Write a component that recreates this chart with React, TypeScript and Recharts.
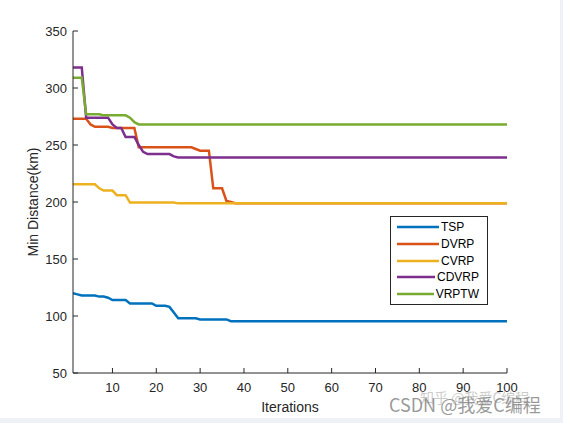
import React from 'react';
import { LineChart, Line, XAxis, YAxis, Legend, Label } from 'recharts';

// Iteration break points and min distance per series
const tspIter = [1, 2, 3, 6, 7, 8, 9, 10, 13, 14, 19, 20, 22, 23, 24, 25, 29, 30, 36, 37, 100];
const tspDist = [120, 119, 118, 118, 117, 117, 116, 114, 114, 111, 111, 109, 109, 108, 103, 98, 98, 97, 97, 95.5, 95.5];

const dvrpIter = [1, 4, 5, 6, 9, 10, 15, 16, 28, 29, 30, 32, 33, 35, 36, 37, 38, 100];
const dvrpDist = [273, 273, 268, 266, 266, 265, 265, 248, 248, 246.5, 245, 245, 212, 212, 201, 200, 199, 199];

const cvrpIter = [1, 6, 7, 8, 10, 11, 13, 14, 24, 25, 100];
const cvrpDist = [215.5, 215.5, 212, 210, 210, 206, 206, 199.5, 199.5, 198.8, 198.8];

const cdvrpIter = [1, 3, 4, 9, 10, 11, 12, 13, 15, 16, 17, 18, 23, 24, 25, 100];
const cdvrpDist = [318, 318, 274, 274, 268, 265, 265, 257, 257, 250, 244, 242, 242, 240, 239, 239];

const vrptwIter = [1, 3, 4, 7, 8, 13, 14, 15, 16, 100];
const vrptwDist = [309, 309, 277, 277, 276, 276, 274, 270, 268, 268];

const seriesNames = ['TSP', 'DVRP', 'CVRP', 'CDVRP', 'VRPTW'];
const seriesColors = ['#0072BD', '#D95319', '#EDB120', '#7E2F8E', '#77AC30'];

const xTicks = [10, 20, 30, 40, 50, 60, 70, 80, 90, 100];
const yTicks = [50, 100, 150, 200, 250, 300, 350];

const toPoints = (iters: number[], vals: number[]) =>
  iters.map((it, i) => ({ iter: it, dist: vals[i] }));

const seriesData = [
  toPoints(tspIter, tspDist),
  toPoints(dvrpIter, dvrpDist),
  toPoints(cvrpIter, cvrpDist),
  toPoints(cdvrpIter, cdvrpDist),
  toPoints(vrptwIter, vrptwDist),
];

const FONT = '"Liberation Sans", Arial, Helvetica, sans-serif';
const AX = '#262626';

const LegendBox = () => (
  <div
    style={{
      border: `1px solid ${AX}`,
      background: '#fff',
      padding: '2px 8px 2px 6px',
      fontFamily: FONT,
      fontSize: 12,
      color: '#000',
      boxSizing: 'border-box',
      width: 98,
    }}
  >
    {seriesNames.map((n, i) => (
      <div key={n} style={{ display: 'flex', alignItems: 'center', height: 16.7 }}>
        <svg width={42} height={6} style={{ display: 'block' }}>
          <line x1={0} y1={3} x2={42} y2={3} stroke={seriesColors[i]} strokeWidth={2.5} />
        </svg>
        <span style={{ marginLeft: 2, lineHeight: '16px' }}>{n}</span>
      </div>
    ))}
  </div>
);

export default function App() {
  return (
    <div
      style={{
        position: 'absolute',
        left: 0,
        top: 0,
        width: 563,
        height: 423,
        background: '#eef2f7',
        overflow: 'hidden',
      }}
    >
      <div style={{ position: 'absolute', left: 0, top: 0, width: 560, height: 418, background: '#fff' }} />
      <div style={{ position: 'absolute', left: 0, top: 0 }}>
        <LineChart width={563} height={423} margin={{ top: 31, right: 56, bottom: 0, left: 13 }}>
          <XAxis
            xAxisId="bottom"
            type="number"
            dataKey="iter"
            domain={[1, 100]}
            ticks={xTicks}
            allowDataOverflow
            height={50}
            tickSize={-5}
            tickMargin={15}
            stroke={AX}
            axisLine={{ stroke: AX }}
            tickLine={{ stroke: AX }}
            tick={{ fill: AX, fontSize: 13, fontFamily: FONT }}
          >
            <Label
              value="Iterations"
              position="insideBottom"
              offset={11}
              style={{ fill: AX, fontSize: 14, fontFamily: FONT }}
            />
          </XAxis>
          <XAxis
            xAxisId="top"
            orientation="top"
            type="number"
            dataKey="iter"
            domain={[1, 100]}
            ticks={xTicks}
            allowDataOverflow
            height={0}
            tickSize={-5}
            tickFormatter={() => ''}
            axisLine={{ stroke: AX }}
            tickLine={{ stroke: AX }}
          />
          <YAxis
            yAxisId="left"
            type="number"
            domain={[50, 350]}
            ticks={yTicks}
            allowDataOverflow
            width={60}
            tickSize={-5}
            tickMargin={11}
            axisLine={{ stroke: AX }}
            tickLine={{ stroke: AX }}
            tick={{ fill: AX, fontSize: 13, fontFamily: FONT }}
          >
            <Label
              value="Min Distance(km)"
              angle={-90}
              position="insideLeft"
              offset={20}
              style={{ fill: AX, fontSize: 14, fontFamily: FONT, textAnchor: 'middle' }}
            />
          </YAxis>
          <YAxis
            yAxisId="right"
            orientation="right"
            type="number"
            domain={[50, 350]}
            ticks={yTicks}
            allowDataOverflow
            width={0}
            tickSize={-5}
            tickFormatter={() => ''}
            axisLine={{ stroke: AX }}
            tickLine={{ stroke: AX }}
          />
          {seriesNames.map((n, i) => (
            <Line
              key={n}
              name={n}
              xAxisId="bottom"
              yAxisId="left"
              data={seriesData[i]}
              dataKey="dist"
              type="linear"
              stroke={seriesColors[i]}
              strokeWidth={2.5}
              dot={false}
              activeDot={false}
              isAnimationActive={false}
            />
          ))}
          <Legend
            layout="vertical"
            align="center"
            verticalAlign="middle"
            content={() => <LegendBox />}
            wrapperStyle={{ position: 'absolute', left: 390, top: 216, width: 98 }}
          />
        </LineChart>
      </div>
      <div
        style={{
          position: 'absolute',
          left: 420,
          top: 389,
          fontFamily: '"Noto Sans CJK SC", sans-serif',
          fontSize: 14,
          lineHeight: '16px',
          color: 'rgba(150,150,150,0.5)',
          whiteSpace: 'nowrap',
        }}
      >
        知乎 @我爱C编程
      </div>
      <div
        style={{
          position: 'absolute',
          left: 389,
          top: 394,
          fontFamily: '"Noto Sans CJK SC", sans-serif',
          fontSize: 18,
          lineHeight: '20px',
          color: 'rgba(120,120,120,0.75)',
          whiteSpace: 'nowrap',
        }}
      >
        CSDN @我爱C编程
      </div>
    </div>
  );
}
